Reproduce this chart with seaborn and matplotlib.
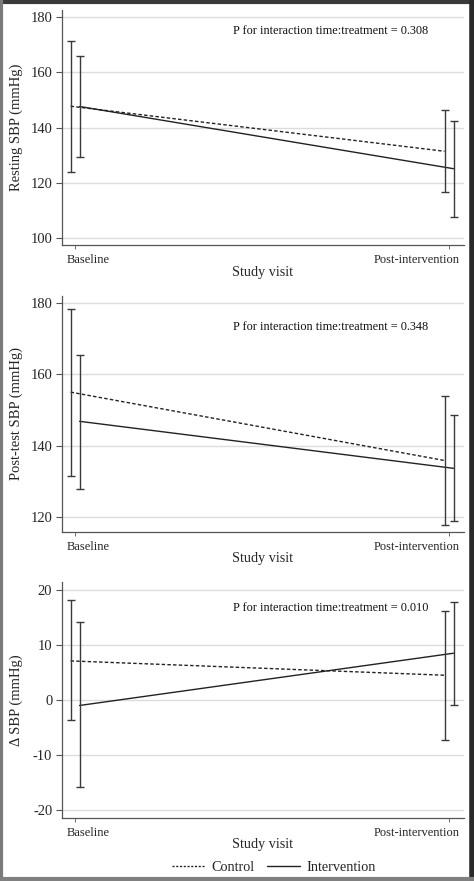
import numpy as np
import pandas as pd
import matplotlib.pyplot as plt
import seaborn as sns
from matplotlib.lines import Line2D

# values (mean, lower and upper bound of the bars)
visits = ['Baseline', 'Post-intervention']
groups = ['Control', 'Intervention']
ylabels = ['Resting SBP (mmHg)', 'Post-test SBP (mmHg)', '\u0394 SBP (mmHg)']
p_values = ['0.308', '0.348', '0.010']

resting_control_mean = [147.8, 131.5]
resting_control_lo = [124.0, 116.7]
resting_control_hi = [171.4, 146.4]
resting_interv_mean = [147.7, 125.2]
resting_interv_lo = [129.6, 107.9]
resting_interv_hi = [165.8, 142.4]

posttest_control_mean = [155.0, 135.8]
posttest_control_lo = [131.5, 117.8]
posttest_control_hi = [178.4, 153.9]
posttest_interv_mean = [146.8, 133.6]
posttest_interv_lo = [127.9, 118.8]
posttest_interv_hi = [165.4, 148.5]

delta_control_mean = [7.1, 4.5]
delta_control_lo = [-3.7, -7.3]
delta_control_hi = [18.1, 16.2]
delta_interv_mean = [-1.0, 8.5]
delta_interv_lo = [-15.9, -1.0]
delta_interv_hi = [14.1, 17.9]

yticks = [[100, 120, 140, 160, 180], [120, 140, 160, 180], [-20, -10, 0, 10, 20]]
ylims = [(97.6, 182.6), (115.8, 182.0), (-21.4, 21.5)]

panels = [
    (resting_control_mean, resting_control_lo, resting_control_hi,
     resting_interv_mean, resting_interv_lo, resting_interv_hi),
    (posttest_control_mean, posttest_control_lo, posttest_control_hi,
     posttest_interv_mean, posttest_interv_lo, posttest_interv_hi),
    (delta_control_mean, delta_control_lo, delta_control_hi,
     delta_interv_mean, delta_interv_lo, delta_interv_hi),
]

sns.set_style('white')
plt.rcParams['font.family'] = ['Liberation Serif', 'DejaVu Serif']
plt.rcParams['axes.unicode_minus'] = False

fig = plt.figure(figsize=(4.74, 8.81), dpi=100)
W, H = 474, 881
# axes boxes in pixels (left, top, right, bottom)
boxes = [(62, 10, 464, 245), (62, 296, 464, 531.7), (62, 581.7, 464, 817.7)]
p_ypos = [0.91, 0.87, 0.887]
offsets = {'Control': -0.012, 'Intervention': 0.012}
dashes = {'Control': (2.5, 1.6), 'Intervention': ''}
line_col = '#222222'
bar_col = '#3a3a3a'

for i, (box, vals) in enumerate(zip(boxes, panels)):
    l, t, r, b = box
    ax = fig.add_axes([l / W, 1 - b / H, (r - l) / W, (b - t) / H])
    cm, clo, chi, im, ilo, ihi = vals
    rows = []
    for g, m, lo, hi in [('Control', cm, clo, chi), ('Intervention', im, ilo, ihi)]:
        for k, v in enumerate(visits):
            rows.append({'group': g, 'visit': v, 'x': k + offsets[g],
                         'mean': m[k], 'lo': lo[k], 'hi': hi[k]})
    df = pd.DataFrame(rows)

    for y in yticks[i]:
        ax.axhline(y, color='#dcdcdc', lw=1.0, zorder=0)

    sns.lineplot(data=df, x='x', y='mean', style='group', dashes=dashes,
                 color=line_col, lw=1.0, errorbar=None, legend=False, ax=ax)
    for g in groups:
        d = df[df['group'] == g]
        ax.errorbar(d['x'], d['mean'], yerr=[d['mean'] - d['lo'], d['hi'] - d['mean']],
                    fmt='none', ecolor=bar_col, elinewidth=1.0, capsize=3, capthick=1.0)

    ax.set_xlim(-0.035, 1.040)
    ax.set_ylim(*ylims[i])
    ax.set_yticks(yticks[i])
    ax.set_yticklabels([str(v) for v in yticks[i]])
    ax.set_xticks([0, 1])
    ax.set_xticklabels([])
    # visit labels sit off-centre from their ticks in the original
    trans = ax.get_xaxis_transform()
    ax.annotate(visits[0], xy=(0, 0), xycoords=trans, xytext=(-6, -11),
                textcoords='offset points', ha='left', va='center', fontsize=9)
    ax.annotate(visits[1], xy=(1, 0), xycoords=trans, xytext=(8, -11),
                textcoords='offset points', ha='right', va='center', fontsize=9)

    ax.tick_params(axis='y', direction='out', length=4, width=0.8, color='#555555',
                   labelsize=10.5, pad=3, left=True)
    ax.tick_params(axis='x', direction='out', length=3, width=0.6, color='#555555',
                   bottom=True)
    for s in ['top', 'right']:
        ax.spines[s].set_visible(False)
    for s in ['left', 'bottom']:
        ax.spines[s].set_color('#555555')
        ax.spines[s].set_linewidth(0.9)

    ax.set_ylabel(ylabels[i], fontsize=10.5)
    ax.yaxis.set_label_coords(-0.097, 0.5)
    ax.set_xlabel('Study visit', fontsize=10.2)
    ax.xaxis.set_label_coords(0.5, -0.088)
    ax.text(0.425, p_ypos[i], 'P for interaction time:treatment = ' + p_values[i],
            transform=ax.transAxes, fontsize=8.8, va='center', ha='left', color='#111111')

handles = [Line2D([], [], color=line_col, lw=1.0, dashes=(1.5, 1.2)),
           Line2D([], [], color=line_col, lw=1.0)]
fig.legend(handles, groups, loc='center', bbox_to_anchor=(274 / W, 1 - 867.5 / H),
           ncol=2, frameon=False, fontsize=10.3, handlelength=2.3,
           handletextpad=0.45, columnspacing=0.9)

# dark frame around the whole picture
fig.add_artist(Line2D([0, 1], [0.998, 0.998], transform=fig.transFigure, color='#3a3a3a', lw=3))
fig.add_artist(Line2D([0.002, 0.002], [0, 1], transform=fig.transFigure, color='#7a7a7a', lw=3))
fig.add_artist(Line2D([0.996, 0.996], [0, 1], transform=fig.transFigure, color='#2a2a2a', lw=4))
fig.add_artist(Line2D([0, 1], [0.002, 0.002], transform=fig.transFigure, color='#808080', lw=3))

fig.savefig('out.png', dpi=100)
